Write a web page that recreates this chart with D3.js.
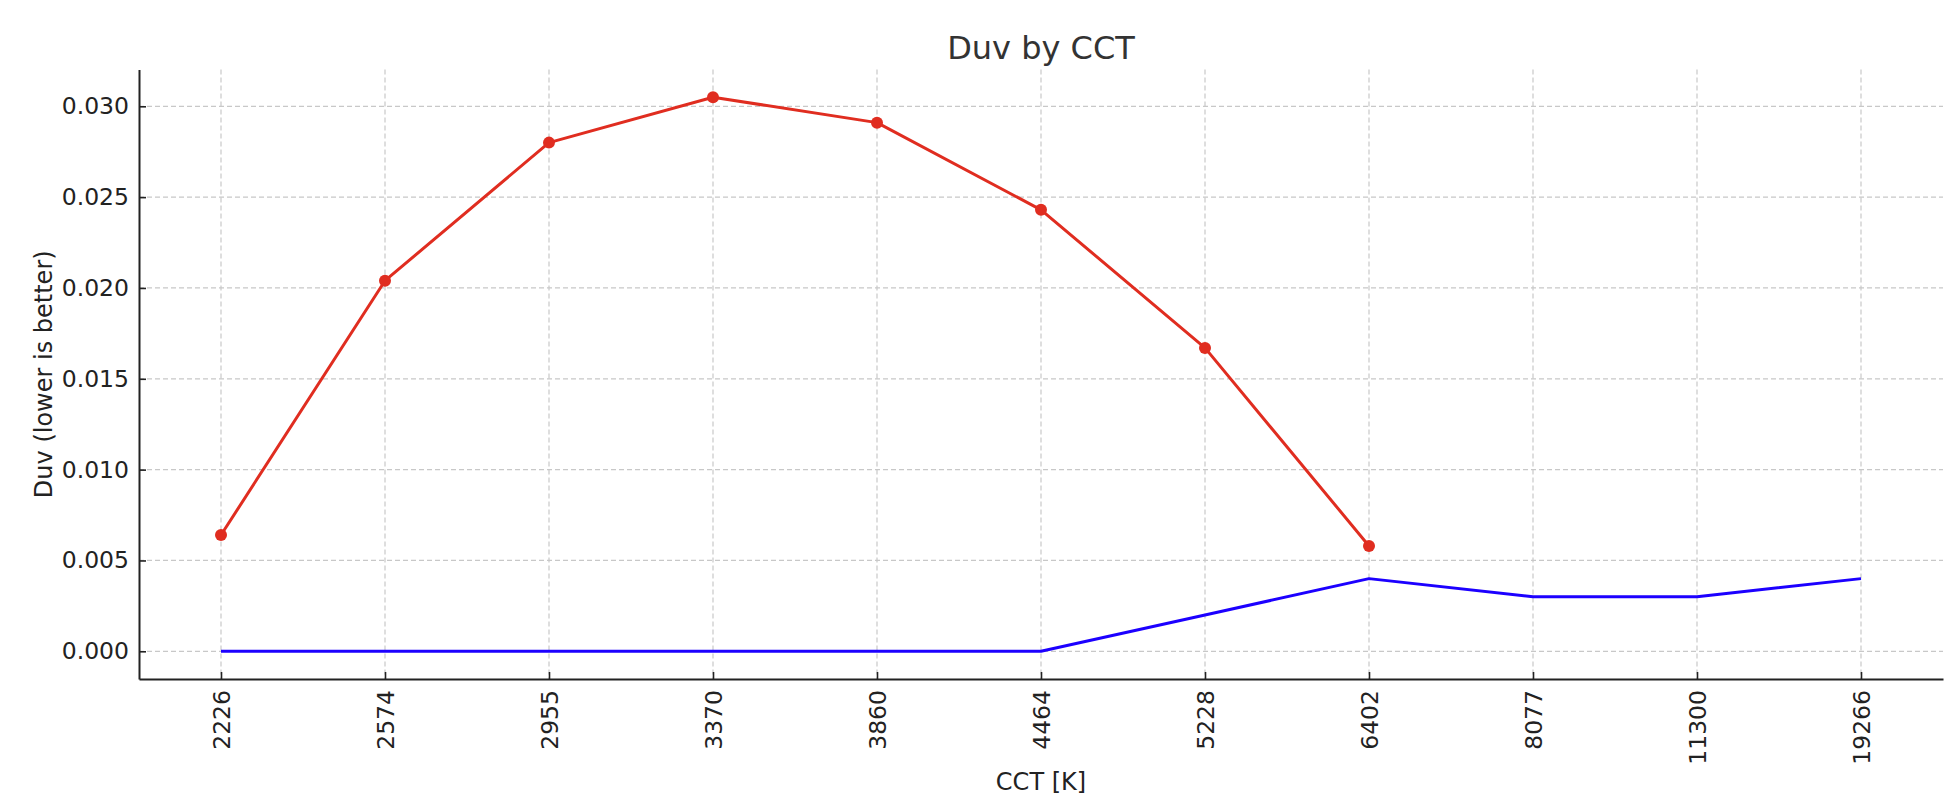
<!DOCTYPE html>
<html>
<head>
<meta charset="utf-8">
<script src="https://cdn.jsdelivr.net/npm/d3@7/dist/d3.min.js"></script>
<style>
  html, body { margin: 0; padding: 0; background: #fff; }
  svg { display: block; font-family: "DejaVu Sans", sans-serif; }
</style>
</head>
<body>
<svg id="chart" width="1947" height="798"></svg>
<script>
const categories = ["2226", "2574", "2955", "3370", "3860", "4464", "5228", "6402", "8077", "11300", "19266"];
const seriesRed = [0.0064, 0.0204, 0.0280, 0.0305, 0.0291, 0.0243, 0.0167, 0.0058, null, null, null];
const seriesBlue = [0.000, 0.000, 0.000, 0.000, 0.000, 0.000, 0.002, 0.004, 0.003, 0.003, 0.004];
const yTicks = [0.000, 0.005, 0.010, 0.015, 0.020, 0.025, 0.030];
const titleText = "Duv by CCT";
const xLabel = "CCT [K]";
const yLabel = "Duv (lower is better)";

(function () {
const svg = d3.select("#chart");
const mLeft = 139, mRight = 1943, mTop = 69.5, mBottom = 679;

const x = d3.scaleLinear().domain([-0.5, categories.length - 0.5]).range([mLeft, mRight]);
const yMax = d3.max(seriesRed.concat(seriesBlue));
const yMin = 0;
const pad = (yMax - yMin) * 0.05;
const y = d3.scaleLinear().domain([yMin - pad, yMax + pad]).range([mBottom, mTop]);

// grid
const grid = svg.append("g");
grid.selectAll("line.v").data(categories).enter().append("line")
  .attr("x1", (d, i) => x(i)).attr("x2", (d, i) => x(i))
  .attr("y1", mTop).attr("y2", mBottom)
  .attr("stroke", "#c8c8c8").attr("stroke-width", 1.2).attr("stroke-dasharray", "5,3");
grid.selectAll("line.h").data(yTicks).enter().append("line")
  .attr("x1", mLeft).attr("x2", mRight)
  .attr("y1", d => y(d)).attr("y2", d => y(d))
  .attr("stroke", "#c8c8c8").attr("stroke-width", 1.2).attr("stroke-dasharray", "5,3");

// lines
const line = d3.line().defined(d => d.v !== null).x(d => x(d.i)).y(d => y(d.v));
const redData = seriesRed.map((v, i) => ({ i, v }));
const blueData = seriesBlue.map((v, i) => ({ i, v }));

svg.append("path").datum(blueData).attr("d", line)
  .attr("fill", "none").attr("stroke", "#1c00ff").attr("stroke-width", 3).attr("stroke-linejoin", "round");

svg.append("path").datum(redData).attr("d", line)
  .attr("fill", "none").attr("stroke", "#e02d20").attr("stroke-width", 3).attr("stroke-linejoin", "round");
svg.selectAll("circle.red").data(redData.filter(d => d.v !== null)).enter().append("circle")
  .attr("cx", d => x(d.i)).attr("cy", d => y(d.v)).attr("r", 6).attr("fill", "#e02d20");

// axes
const xAxis = d3.axisBottom(x).tickValues(d3.range(categories.length))
  .tickFormat(i => categories[i]).tickSizeInner(-7).tickSizeOuter(0).tickPadding(11);
const gx = svg.append("g").attr("transform", `translate(0,${mBottom})`).call(xAxis);
gx.select(".domain").attr("stroke", "#222").attr("stroke-width", 2);
gx.selectAll(".tick line").attr("stroke", "#222").attr("stroke-width", 1.6);
gx.selectAll(".tick text")
  .attr("font-size", 23.5).attr("fill", "#222").attr("font-family", "DejaVu Sans")
  .attr("transform", "rotate(-90)")
  .attr("text-anchor", "end")
  .attr("x", -11).attr("y", 0).attr("dy", "0.35em");

const yAxis = d3.axisLeft(y).tickValues(yTicks).tickFormat(d3.format(".3f"))
  .tickSizeInner(-7).tickSizeOuter(0).tickPadding(10);
const gy = svg.append("g").attr("transform", `translate(${mLeft},0)`).call(yAxis);
gy.select(".domain").attr("stroke", "#222").attr("stroke-width", 2);
gy.selectAll(".tick line").attr("stroke", "#222").attr("stroke-width", 1.6);
gy.selectAll(".tick text").attr("font-size", 23.5).attr("fill", "#222").attr("font-family", "DejaVu Sans")
  .attr("x", -10);

// title and labels
svg.append("text").attr("x", (mLeft + mRight) / 2).attr("y", 59)
  .attr("text-anchor", "middle").attr("font-size", 32).attr("fill", "#333").text(titleText);
svg.append("text").attr("x", (mLeft + mRight) / 2).attr("y", 790)
  .attr("text-anchor", "middle").attr("font-size", 24).attr("fill", "#222").text(xLabel);
svg.append("text").attr("transform", `translate(52,${(mTop + mBottom) / 2}) rotate(-90)`)
  .attr("text-anchor", "middle").attr("font-size", 24).attr("fill", "#222").text(yLabel);
})();
</script>
</body>
</html>
